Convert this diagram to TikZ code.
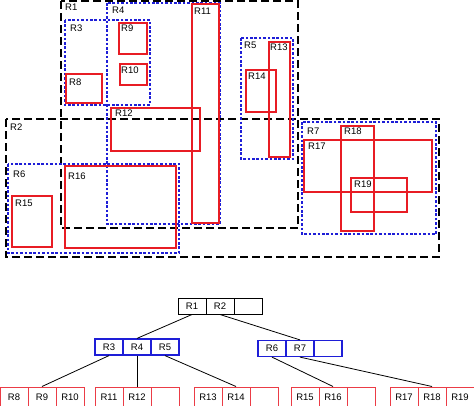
\documentclass[tikz,border=0pt]{standalone}
\usepackage{fontspec}
\setmainfont{Liberation Sans}
\definecolor{rred}{RGB}{232,28,36}
\definecolor{lred}{RGB}{235,60,70}
\definecolor{bblue}{RGB}{30,30,215}
\tikzset{
  blackdash/.style={draw=black, line width=1.4pt, dash pattern=on 8pt off 4pt},
  bluedot/.style={draw=bblue, line width=1.2pt, dash pattern=on 2.6pt off 1.8pt},
  redbox/.style={draw=rred, line width=1.4pt},
  lab/.style={anchor=north west, inner sep=0pt, font=\fontsize{9.5}{10}\selectfont},
  cellbase/.style={line width=1pt, minimum width=28pt, minimum height=16pt, inner sep=0pt, font=\fontsize{9.5}{10}\selectfont},
  cellk/.style={cellbase, draw=black},
  cellb/.style={cellbase, draw=bblue, line width=1.2pt},
  cellr/.style={cellbase, draw=lred, minimum height=20pt},
  conn/.style={draw=black, line width=0.8pt}
}
\begin{document}
\begin{tikzpicture}[x=1pt,y=-1pt]
\useasboundingbox (0,0) rectangle (474,405);
\clip (0,0) rectangle (474,405);
\fill[white] (0,0) rectangle (474,405);
% black dashed
\draw[blackdash] (61,1) rectangle (298,228);
\draw[blackdash] (6,119) rectangle (439,257);
% blue dotted
\draw[bluedot] (65,20) rectangle (150,105);
\draw[bluedot] (107,3) rectangle (220,224);
\draw[bluedot] (241,38) rectangle (293,159);
\draw[bluedot] (8,164) rectangle (179,253);
\draw[bluedot] (302,122) rectangle (436,234);
% red
\draw[redbox] (66,74) rectangle (102,103);
\draw[redbox] (119,23) rectangle (147,54);
\draw[redbox] (120,64) rectangle (147,85);
\draw[redbox] (192,4) rectangle (219,223);
\draw[redbox] (111,108) rectangle (200,151);
\draw[redbox] (269,42) rectangle (290,157);
\draw[redbox] (246,70) rectangle (276,112);
\draw[redbox] (12,196) rectangle (52,247);
\draw[redbox] (65,166) rectangle (176,248);
\draw[redbox] (304,140) rectangle (432,192);
\draw[redbox] (341,126) rectangle (374,231);
\draw[redbox] (351,178) rectangle (407,212);
% labels
\node[lab] (tR1) at (65,4) {R1};
\node[lab] (tR2) at (10,124) {R2};
\node[lab] (tR3) at (70,25) {R3};
\node[lab] (tR4) at (112,7) {R4};
\node[lab] (tR5) at (244,42) {R5};
\node[lab] (tR6) at (13,171) {R6};
\node[lab] (tR7) at (307,128) {R7};
\node[lab] (tR8) at (69,79) {R8};
\node[lab] (tR9) at (121,25) {R9};
\node[lab] (tR10) at (121,67) {R10};
\node[lab] (tR11) at (194,8) {R11};
\node[lab] (tR12) at (115,110) {R12};
\node[lab] (tR13) at (270,44) {R13};
\node[lab] (tR14) at (248,73) {R14};
\node[lab] (tR15) at (15,200) {R15};
\node[lab] (tR16) at (68,173) {R16};
\node[lab] (tR17) at (308,143) {R17};
\node[lab] (tR18) at (344,128) {R18};
\node[lab] (tR19) at (354,181) {R19};
% tree root
\node[cellk] (n1) at (192,306) {R1};
\node[cellk] (n2) at (220,306) {R2};
\node[cellk] (n3) at (248,306) {};
% level 2
\node[cellb] (a3) at (109,347) {R3};
\node[cellb] (a4) at (137,347) {R4};
\node[cellb] (a5) at (165,347) {R5};
\node[cellb] (b6) at (272,348.5) {R6};
\node[cellb] (b7) at (300,348.5) {R7};
\node[cellb] (b8) at (328,348.5) {};
% leaves
\node[cellr] (c8) at (14,397) {R8};
\node[cellr] (c9) at (42,397) {R9};
\node[cellr] (c10) at (70,397) {R10};
\node[cellr] (d11) at (109,397) {R11};
\node[cellr] (d12) at (137,397) {R12};
\node[cellr] (d0) at (165,397) {};
\node[cellr] (e13) at (208,397) {R13};
\node[cellr] (e14) at (236,397) {R14};
\node[cellr] (e0) at (264,397) {};
\node[cellr] (f15) at (305,397) {R15};
\node[cellr] (f16) at (333,397) {R16};
\node[cellr] (f0) at (361,397) {};
\node[cellr] (g17) at (404,397) {R17};
\node[cellr] (g18) at (432,397) {R18};
\node[cellr] (g19) at (460,397) {R19};
% connectors
\draw[conn] (n1.south) -- (a4.north);
\draw[conn] (n2.south) -- (b7.north);
\draw[conn] (a3.south) -- (c9.north);
\draw[conn] (a4.south) -- (d12.north);
\draw[conn] (a5.south) -- (e14.north);
\draw[conn] (b6.south) -- (f16.north);
\draw[conn] (b7.south) -- (g18.north);
\end{tikzpicture}
\end{document}
